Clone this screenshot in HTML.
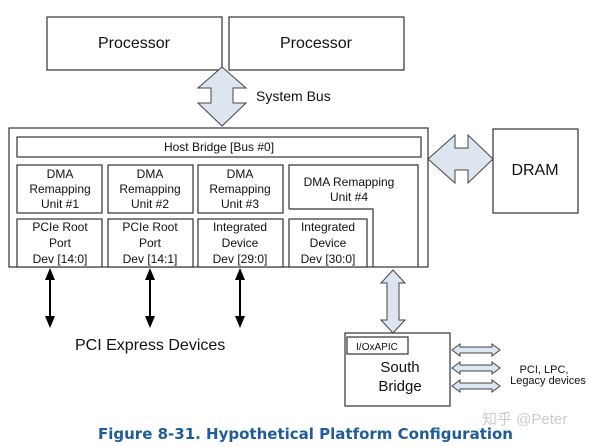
<!DOCTYPE html><html><head><style>body{margin:0;background:#fff}svg{display:block}text{font-family:"Liberation Sans",Arial,sans-serif;fill:#111}</style></head><body>
<svg width="600" height="446" viewBox="0 0 600 446" xmlns="http://www.w3.org/2000/svg">
<g fill="#fff" stroke="#333" stroke-width="1.2">
<rect x="47" y="17" width="175" height="53"/>
<rect x="229" y="17" width="175" height="53"/>
<rect x="9" y="128" width="419" height="139"/>
<rect x="17" y="137" width="404" height="20"/>
<rect x="17" y="165" width="85" height="48"/>
<rect x="108" y="165" width="85" height="48"/>
<rect x="198" y="165" width="85" height="48"/>
<path d="M289 209V165H418V267"/>
<path d="M289 209H373V267"/>
<rect x="17" y="219" width="85" height="48"/>
<rect x="108" y="219" width="85" height="48"/>
<rect x="198" y="219" width="85" height="48"/>
<rect x="289" y="219" width="78" height="48"/>
<rect x="493" y="129" width="85" height="84"/>
<rect x="345" y="333" width="105" height="73"/>
<rect x="347" y="337" width="61" height="17"/>
</g>
<g fill="#dde6f0" stroke="#444" stroke-width="1">
<path d="M222 67L246 88H233V103H246L222 126L198 103H211V88H198Z"/>
<path d="M428 159L455 135V148H468V135L493 159L468 183V170H455V183Z"/>
<path d="M393 270L405 283H399V320H405L393 333L381 320H387V283H381Z"/>
<path d="M452 350L460 344V347H492V344L500 350L492 356V353H460V356Z"/>
<path d="M452 368L460 362V365H492V362L500 368L492 374V371H460V374Z"/>
<path d="M452 386L460 380V383H492V380L500 386L492 392V389H460V392Z"/>
</g>
<g stroke="#000" stroke-width="2" fill="#000">
<line x1="50" y1="276" x2="50" y2="320"/><path d="M50 268L45 280H55Z M50 328L45 316H55Z" stroke="none"/>
<line x1="150" y1="276" x2="150" y2="320"/><path d="M150 268L145 280H155Z M150 328L145 316H155Z" stroke="none"/>
<line x1="240" y1="276" x2="240" y2="320"/><path d="M240 268L235 280H245Z M240 328L235 316H245Z" stroke="none"/>
</g>
<g font-size="16" text-anchor="middle">
<text x="134" y="48">Processor</text>
<text x="316" y="48">Processor</text>
<text x="535" y="175">DRAM</text>
</g>
<text x="256" y="101" font-size="14">System Bus</text>
<g font-size="12" text-anchor="middle">
<text x="219" y="151">Host Bridge [Bus #0]</text>
<text x="60" y="178">DMA</text><text x="60" y="193">Remapping</text><text x="60" y="208">Unit #1</text>
<text x="150" y="178">DMA</text><text x="150" y="193">Remapping</text><text x="150" y="208">Unit #2</text>
<text x="240" y="178">DMA</text><text x="240" y="193">Remapping</text><text x="240" y="208">Unit #3</text>
<text x="349" y="186">DMA Remapping</text><text x="349" y="201">Unit #4</text>
<text x="60" y="231">PCIe Root</text><text x="60" y="247">Port</text><text x="60" y="263">Dev [14:0]</text>
<text x="150" y="231">PCIe Root</text><text x="150" y="247">Port</text><text x="150" y="263">Dev [14:1]</text>
<text x="240" y="231">Integrated</text><text x="240" y="247">Device</text><text x="240" y="263">Dev [29:0]</text>
<text x="328" y="231">Integrated</text><text x="328" y="247">Device</text><text x="328" y="263">Dev [30:0]</text>
</g>
<text x="75" y="350" font-size="16">PCI Express Devices</text>
<text x="377" y="350" font-size="10" text-anchor="middle">I/OxAPIC</text>
<text x="400" y="372" font-size="15" text-anchor="middle">South</text>
<text x="400" y="391" font-size="15" text-anchor="middle">Bridge</text>
<text x="544" y="373" font-size="11" text-anchor="middle">PCI, LPC,</text>
<text x="548" y="384" font-size="11" text-anchor="middle">Legacy devices</text>
<text x="482" y="424" font-size="15" style="fill:#ccc" font-family="'Liberation Sans','Noto Sans CJK SC',sans-serif">知乎 @Peter</text>
<text x="98" y="439" font-size="15" font-weight="bold" style="fill:#1f5c99;font-family:'DejaVu Sans',sans-serif">Figure 8-31.  Hypothetical Platform Configuration</text>
</svg>
</body></html>
